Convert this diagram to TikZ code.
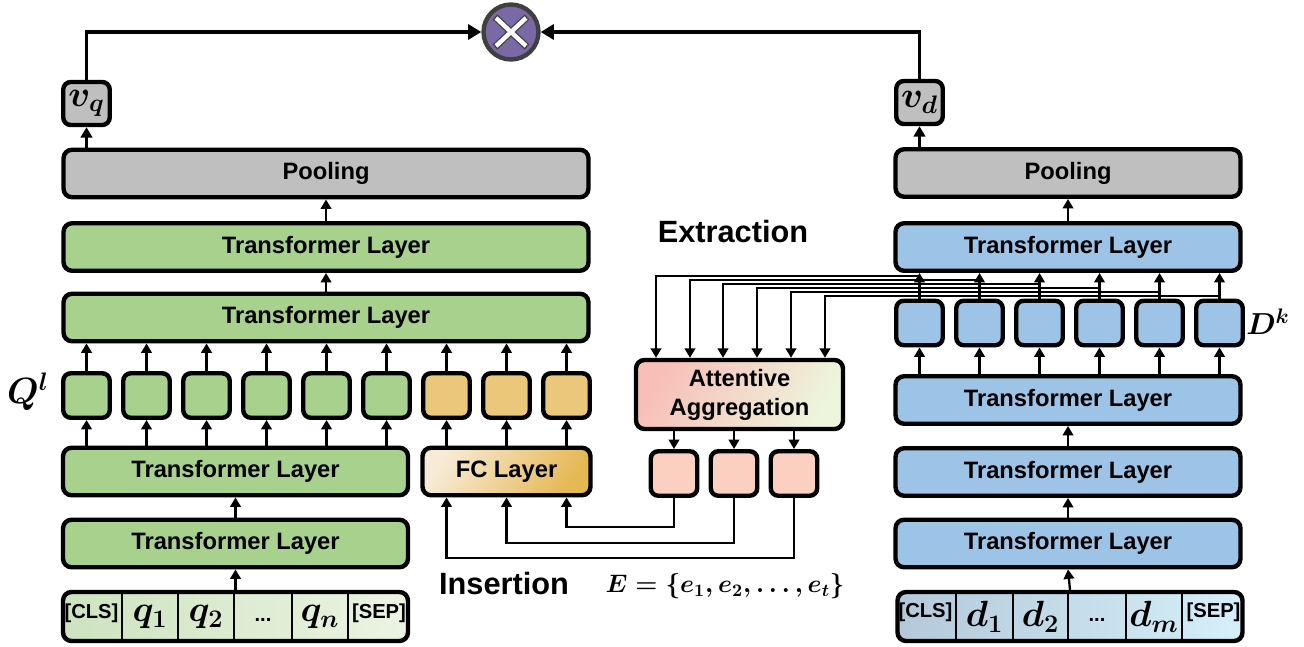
\documentclass[tikz,border=0pt]{standalone}
\usepackage{amsmath}
\usepackage{fontspec}
\setmainfont{Liberation Sans}
\usepackage{xcolor}
\usepackage{tikz}
\usetikzlibrary{arrows.meta,calc}

\definecolor{tlgreen}{HTML}{A9D18E}
\definecolor{tlblue}{HTML}{9DC3E6}
\definecolor{poolgray}{HTML}{BFBFBF}
\definecolor{insorange}{HTML}{EAC77A}
\definecolor{extpink}{HTML}{FBD0C0}
\definecolor{mulpurple}{HTML}{7B68A6}
\definecolor{muledge}{HTML}{404040}
\definecolor{fclight}{HTML}{F7EAD6}
\definecolor{fcdark}{HTML}{E6B854}
\definecolor{aapink}{HTML}{F8BFB8}
\definecolor{aagreen}{HTML}{EDF5DC}
\definecolor{tokqleft}{HTML}{CDE3BF}
\definecolor{tokqright}{HTML}{EBF4E3}
\definecolor{tokdleft}{HTML}{B4C8D9}
\definecolor{tokdright}{HTML}{D5F0FA}

\begin{document}
\begin{tikzpicture}[x=0.02cm,y=-0.02cm,
	box/.style={draw, line width=2.5pt, rounded corners=0.17cm, inner sep=0pt, font=\fontsize{13.5}{16.5}\selectfont\bfseries},
	layer/.style={box, minimum height=0.95cm},
	cell/.style={draw, line width=2.5pt, rounded corners=0.15cm, minimum width=0.93cm, minimum height=0.89cm, inner sep=0pt},
	arr/.style={line width=1.3pt, -{Triangle[length=5.4pt,width=6pt]}},
	midarr/.style={line width=1.7pt, -{Triangle[length=6pt,width=6.6pt]}},
	bigarr/.style={line width=2.1pt, -{Triangle[length=7.5pt,width=8.5pt]}},
	tok/.style={font=\fontsize{11.5}{11.5}\selectfont\bfseries},
	sym/.style={font=\fontsize{21}{21}\selectfont\boldmath},
	head/.style={font=\fontsize{17.5}{20}\selectfont\bfseries}]
	\useasboundingbox (0,0) rectangle (1304,646);

	% query tower
	\node[layer, fill=poolgray, minimum width=10.5cm] (poolq) at (326,173.5) {Pooling};
	\node[layer, fill=tlgreen, minimum width=10.5cm] (tlq4) at (326,247) {Transformer Layer};
	\node[layer, fill=tlgreen, minimum width=10.5cm] (tlq3) at (326,317.5) {Transformer Layer};
	\foreach \i in {1,...,6}
		\node[cell, fill=tlgreen] (q\i) at ({26.5+60*\i},395.5) {};
	\foreach \i in {1,2,3}
		\node[cell, fill=insorange] (o\i) at ({386.5+60*\i},395.5) {};
	\node[layer, fill=tlgreen, minimum width=6.9cm] (tlq2) at (235.5,471.5) {Transformer Layer};
	\node[layer, minimum width=3.36cm, left color=fclight, right color=fcdark, shading angle=60] (fc) at (506.5,471.5) {FC Layer};
	\node[layer, fill=tlgreen, minimum width=6.9cm] (tlq1) at (235.5,543.5) {Transformer Layer};
	\node[layer, minimum width=6.9cm, minimum height=0.98cm, left color=tokqleft, right color=tokqright] (tokq) at (235.5,616.5) {};
	\foreach \x in {122,178,234,292,348}
		\draw[line width=0.6pt] (\x,0 |- tokq.north) -- (\x,0 |- tokq.south);
	\node[tok] (qcls) at (91.5,613) {[CLS]};
	\node[sym] (qa) at (150,617) {$q_1$};
	\node[sym] (qb) at (206,617) {$q_2$};
	\node[tok] (qdots) at (263,620) {...};
	\node[sym] (qn) at (320,617) {$q_n$};
	\node[tok] (qsep) at (379,613) {[SEP]};
	\node[sym, font=\fontsize{20}{20}\selectfont\boldmath] (ql) at (28,392) {$Q^l$};
	\node[cell, fill=poolgray, minimum height=0.86cm, sym] (vq) at (86.5,103.5) {$v_q$};

	% document tower
	\node[cell, fill=poolgray, minimum height=0.86cm, sym] (vd) at (919.5,102.5) {$v_d$};
	\node[layer, fill=poolgray, minimum width=6.9cm] (poold) at (1068,173) {Pooling};
	\node[layer, fill=tlblue, minimum width=6.9cm] (tld4) at (1068,247) {Transformer Layer};
	\foreach \i in {1,...,6}
		\node[cell, fill=tlblue] (d\i) at ({859.5+60*\i},323) {};
	\node[layer, fill=tlblue, minimum width=6.9cm] (tld3) at (1068,400) {Transformer Layer};
	\node[layer, fill=tlblue, minimum width=6.9cm] (tld2) at (1068,472) {Transformer Layer};
	\node[layer, fill=tlblue, minimum width=6.9cm] (tld1) at (1068,543.5) {Transformer Layer};
	\node[layer, minimum width=6.9cm, minimum height=0.98cm, left color=tokdleft, right color=tokdright] (tokd) at (1070,616.5) {};
	\foreach \x in {956,1013,1068,1126,1182}
		\draw[line width=0.6pt] (\x,0 |- tokd.north) -- (\x,0 |- tokd.south);
	\node[tok] (dcls) at (925.5,612) {[CLS]};
	\node[sym] (da) at (984.5,617) {$d_1$};
	\node[sym] (db) at (1040.5,617) {$d_2$};
	\node[tok] (ddots) at (1097,620) {...};
	\node[sym] (dm) at (1154,617) {$d_m$};
	\node[tok] (dsep) at (1213.5,612) {[SEP]};
	\node[sym, font=\fontsize{18}{18}\selectfont\boldmath] (dk) at (1268,322) {$D^k$};

	% middle: extraction / insertion
	\node[box, minimum width=4.14cm, minimum height=1.38cm, align=center, left color=aapink, right color=aagreen, shading angle=60] (agg) at (739.5,394.5) {Attentive\\Aggregation};
	\foreach \i in {1,2,3}
		\node[cell, fill=extpink] (p\i) at ({614+60*\i},473.5) {};
	\node[head] (extr) at (733,232) {Extraction};
	\node[head] (ins) at (504,583) {Insertion};
	\node[font=\fontsize{14.5}{14.5}\selectfont\boldmath] (eset) at (725,586) {$E=\{e_1,e_2,\dots,e_t\}$};

	% similarity
	\node[circle, draw=muledge, fill=mulpurple, line width=2.5pt, minimum size=1.1cm, inner sep=0pt] (mul) at (511,32) {};
	\draw[muledge, line width=3.9pt] (mul.center) ++(-16,-15) -- ++(32,30);
	\draw[muledge, line width=3.9pt] (mul.center) ++(-16,15) -- ++(32,-30);
	\draw[white, line width=2.5pt] (mul.center) ++(-15,-14) -- ++(30,28);
	\draw[white, line width=2.5pt] (mul.center) ++(-15,14) -- ++(30,-28);

	% connectors
	\draw[bigarr] (vq.north) |- (mul.west);
	\draw[bigarr] (vd.north) |- (mul.east);
	\draw[midarr] (vq |- poolq.north) -- (vq.south);
	\draw[midarr] (vd |- poold.north) -- (vd.south);

	\draw[arr] (tlq4.north) -- (poolq.south);
	\draw[arr] (tlq3.north) -- (tlq4.south);
	\foreach \i in {1,...,6} {
		\draw[arr] (q\i.north) -- (q\i.north |- tlq3.south);
		\draw[arr] (q\i.south |- tlq2.north) -- (q\i.south);
	}
	\foreach \i in {1,2,3} {
		\draw[arr] (o\i.north) -- (o\i.north |- tlq3.south);
		\draw[arr] (o\i.south |- fc.north) -- (o\i.south);
	}
	\draw[arr] (tlq1.north) -- (tlq2.south);
	\draw[arr] (tokq.north) -- (tlq1.south);

	\draw[arr] (tld4.north) -- (poold.south);
	\foreach \i in {1,...,6} {
		\draw[arr] (d\i.north) -- (d\i.north |- tld4.south);
		\draw[arr] (d\i.south |- tld3.north) -- (d\i.south);
	}
	\draw[arr] (tld2.north) -- (tld3.south);
	\draw[arr] (tld1.north) -- (tld2.south);
	\draw[arr] (tokd.north) -- (tld1.south);

	% extraction wires
	\foreach \i/\xa/\ya in {1/656/276,2/690/280,3/723/284,4/757/288,5/791/292,6/825/296}
		\draw[arr] (d\i.north |- 0,\ya) -| (\xa,0 |- agg.north);
	\foreach \i in {1,2,3}
		\draw[arr] (p\i.north |- agg.south) -- (p\i.north);
	% insertion wires
	\foreach \i/\j/\yb in {1/3/527,2/2/543,3/1/558}
		\draw[arr] (p\i.south) |- (o\j |- 0,\yb) -- (o\j |- fc.south);
\end{tikzpicture}
\end{document}
